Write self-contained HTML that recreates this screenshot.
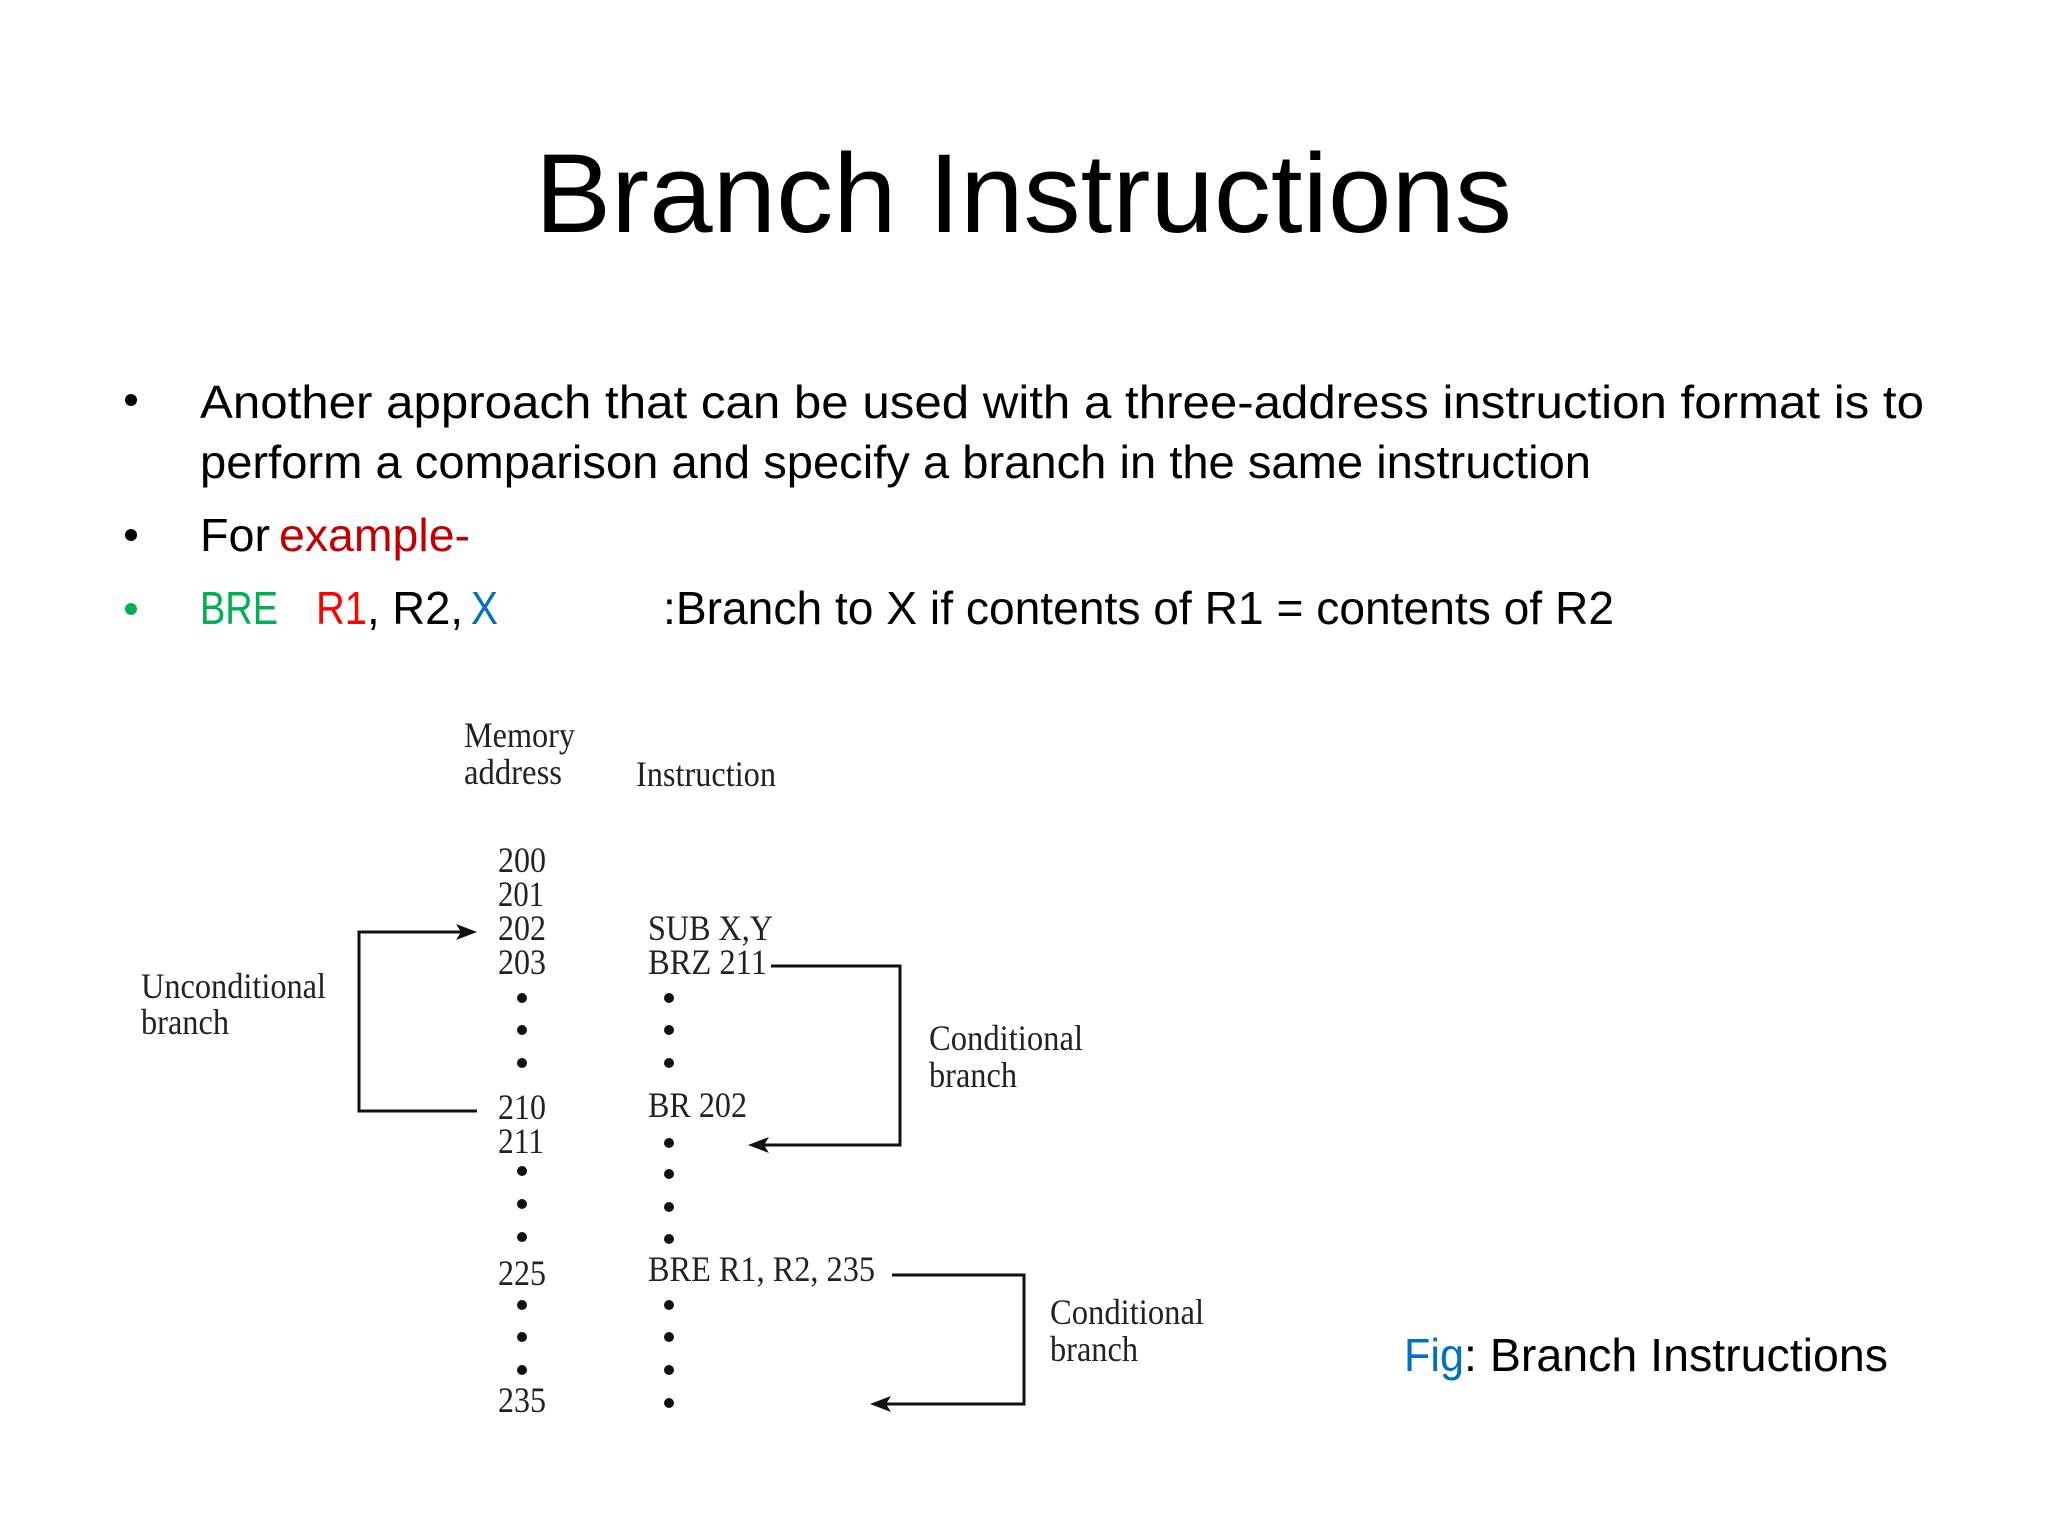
<!DOCTYPE html>
<html><head><meta charset="utf-8"><style>html,body{margin:0;padding:0;background:#fff}svg{display:block}</style></head>
<body>
<svg width="2048" height="1536" viewBox="0 0 2048 1536" xmlns="http://www.w3.org/2000/svg">
<rect width="2048" height="1536" fill="#fff"/>
<g font-family="'Liberation Sans', sans-serif" fill="#000">
<text x="535" y="232" font-size="112" textLength="977" lengthAdjust="spacingAndGlyphs">Branch Instructions</text>
<circle cx="131" cy="400" r="6"/><circle cx="131" cy="535" r="6"/><circle cx="131" cy="609" r="6" fill="#00b050"/>
<text x="200" y="418" font-size="46" textLength="1724" lengthAdjust="spacingAndGlyphs">Another approach that can be used with a three-address instruction format is to</text>
<text x="200" y="478" font-size="46" textLength="1391" lengthAdjust="spacingAndGlyphs">perform a comparison and specify a branch in the same instruction</text>
<text x="200" y="551" font-size="46" textLength="70" lengthAdjust="spacingAndGlyphs">For</text>
<text x="279" y="551" font-size="46" fill="#c00000" textLength="191" lengthAdjust="spacingAndGlyphs">example-</text>
<text x="200" y="624" font-size="46" fill="#00b050" textLength="78" lengthAdjust="spacingAndGlyphs">BRE</text>
<text x="316" y="624" font-size="46" fill="#ff0000" textLength="51" lengthAdjust="spacingAndGlyphs">R1</text>
<text x="367" y="624" font-size="46" textLength="96" lengthAdjust="spacingAndGlyphs">, R2,</text>
<text x="471" y="624" font-size="46" fill="#0070c0" textLength="27" lengthAdjust="spacingAndGlyphs">X</text>
<text x="663" y="624" font-size="46" textLength="951" lengthAdjust="spacingAndGlyphs">:Branch to X if contents of R1 = contents of R2</text>
<text x="1404" y="1371" font-size="46" fill="#0070c0" textLength="60" lengthAdjust="spacingAndGlyphs">Fig</text>
<text x="1464" y="1371" font-size="46" textLength="424" lengthAdjust="spacingAndGlyphs">: Branch Instructions</text>
</g>
<g font-family="'Liberation Serif', serif" font-size="36" fill="#222">
<text x="464" y="747" textLength="111" lengthAdjust="spacingAndGlyphs">Memory</text>
<text x="464" y="784" textLength="98" lengthAdjust="spacingAndGlyphs">address</text>
<text x="636" y="786" textLength="140" lengthAdjust="spacingAndGlyphs">Instruction</text>
<text x="498" y="872" textLength="48" lengthAdjust="spacingAndGlyphs">200</text>
<text x="498" y="906" textLength="46" lengthAdjust="spacingAndGlyphs">201</text>
<text x="498" y="940" textLength="48" lengthAdjust="spacingAndGlyphs">202</text>
<text x="498" y="974" textLength="48" lengthAdjust="spacingAndGlyphs">203</text>
<text x="498" y="1119" textLength="48" lengthAdjust="spacingAndGlyphs">210</text>
<text x="498" y="1153" textLength="46" lengthAdjust="spacingAndGlyphs">211</text>
<text x="498" y="1285" textLength="48" lengthAdjust="spacingAndGlyphs">225</text>
<text x="498" y="1412" textLength="48" lengthAdjust="spacingAndGlyphs">235</text>
<text x="648" y="940" textLength="125" lengthAdjust="spacingAndGlyphs">SUB X,Y</text>
<text x="648" y="974" textLength="119" lengthAdjust="spacingAndGlyphs">BRZ 211</text>
<text x="648" y="1117" textLength="99" lengthAdjust="spacingAndGlyphs">BR 202</text>
<text x="648" y="1281" textLength="227" lengthAdjust="spacingAndGlyphs">BRE R1, R2, 235</text>
<text x="141" y="998" textLength="185" lengthAdjust="spacingAndGlyphs">Unconditional</text>
<text x="141" y="1034" textLength="88" lengthAdjust="spacingAndGlyphs">branch</text>
<text x="929" y="1050" textLength="154" lengthAdjust="spacingAndGlyphs">Conditional</text>
<text x="929" y="1087" textLength="88" lengthAdjust="spacingAndGlyphs">branch</text>
<text x="1050" y="1324" textLength="154" lengthAdjust="spacingAndGlyphs">Conditional</text>
<text x="1050" y="1361" textLength="88" lengthAdjust="spacingAndGlyphs">branch</text>
</g>
<g fill="#111">
<circle cx="522" cy="998" r="5"/><circle cx="522" cy="1030" r="5"/><circle cx="522" cy="1063" r="5"/>
<circle cx="522" cy="1171" r="5"/><circle cx="522" cy="1204" r="5"/><circle cx="522" cy="1237" r="5"/>
<circle cx="522" cy="1305" r="5"/><circle cx="522" cy="1337" r="5"/><circle cx="522" cy="1370" r="5"/>
<circle cx="669" cy="998" r="5"/><circle cx="669" cy="1030" r="5"/><circle cx="669" cy="1063" r="5"/>
<circle cx="669" cy="1143" r="5"/><circle cx="669" cy="1174" r="5"/><circle cx="669" cy="1207" r="5"/><circle cx="669" cy="1239" r="5"/>
<circle cx="669" cy="1305" r="5"/><circle cx="669" cy="1337" r="5"/><circle cx="669" cy="1370" r="5"/><circle cx="669" cy="1403" r="5"/>
</g>
<g fill="none" stroke="#111" stroke-width="3">
<polyline points="477,1111 359,1111 359,932 462,932"/>
<polyline points="771,966 900,966 900,1145 763,1145"/>
<polyline points="892,1275 1024,1275 1024,1404 885,1404"/>
</g>
<g fill="#111">
<polygon points="477,932 456,924 461,932 456,940"/>
<polygon points="748,1145 769,1137 764,1145 769,1153"/>
<polygon points="870,1404 891,1396 886,1404 891,1412"/>
</g>
</svg>
</body></html>
